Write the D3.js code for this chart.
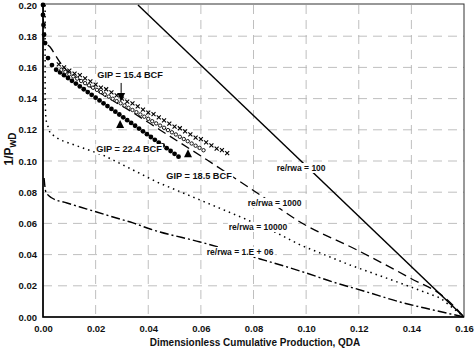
<!DOCTYPE html>
<html><head><meta charset="utf-8">
<script src="https://cdn.jsdelivr.net/npm/d3@7"></script>
<style>
html,body{margin:0;padding:0;background:#fff;}
svg{display:block;}
text{font-family:"Liberation Sans",Arial,sans-serif;font-weight:bold;fill:#111;}
</style></head>
<body>
<svg id="chart" width="474" height="348"></svg>
<script>
// ---- data ----
const xTicks = [0, 0.02, 0.04, 0.06, 0.08, 0.10, 0.12, 0.14, 0.16];
const yTicks = [0, 0.02, 0.04, 0.06, 0.08, 0.10, 0.12, 0.14, 0.16, 0.18, 0.20];

// re/rwa = 100 (solid)
const q100 = [0.0361, 0.16];
const y100 = [0.200, 0.000];
// re/rwa = 1000 (dashed)
const q1000 = [0, 0.0004, 0.0027, 0.0049, 0.0072, 0.0141, 0.0217, 0.0331, 0.0445, 0.0624, 0.0837, 0.0977, 0.1194, 0.1395, 0.1529, 0.16];
const y1000 = [0.200, 0.1763, 0.1731, 0.1673, 0.1615, 0.1519, 0.1436, 0.1321, 0.1199, 0.1006, 0.0769, 0.0609, 0.0429, 0.0250, 0.0122, 0];
// re/rwa = 10000 (dotted)
const q10000 = [0.0008, 0.0008, 0.0011, 0.0027, 0.0065, 0.0152, 0.0228, 0.0312, 0.0433, 0.0597, 0.0760, 0.0890, 0.0977, 0.1167, 0.1357, 0.1510, 0.16];
const y10000 = [0.200, 0.1391, 0.1263, 0.1179, 0.1135, 0.1083, 0.1038, 0.0968, 0.0865, 0.0750, 0.0635, 0.0538, 0.0462, 0.0333, 0.0218, 0.0122, 0];
// re/rwa = 1.E+06 (dash-dot)
const q1e6 = [0.0004, 0.0011, 0.0034, 0.0091, 0.0167, 0.0266, 0.0342, 0.0407, 0.0597, 0.0825, 0.0977, 0.1103, 0.1232, 0.1357, 0.1483, 0.16];
const y1e6 = [0.0891, 0.0801, 0.0763, 0.0731, 0.0692, 0.0641, 0.0603, 0.0564, 0.0481, 0.0372, 0.0295, 0.0224, 0.0160, 0.0096, 0.0045, 0];

// GIP = 15.4 BCF (x markers)
const qCross = [0.006,0.008,0.010,0.012,0.014,0.016,0.018,0.020,0.022,0.024,0.026,0.028,0.030,0.032,0.034,0.036,0.038,0.040,0.042,0.044,0.046,0.048,0.050,0.052,0.054,0.056,0.058,0.060,0.062,0.064,0.066,0.068,0.070];
const yCross = [0.162,0.160,0.158,0.156,0.155,0.153,0.151,0.149,0.147,0.146,0.144,0.142,0.140,0.138,0.137,0.135,0.133,0.131,0.130,0.128,0.126,0.124,0.122,0.121,0.119,0.117,0.115,0.114,0.112,0.110,0.108,0.107,0.105];
// GIP = 18.5 BCF (open circles)
const qOpen = [0.007,0.0085,0.010,0.0115,0.013,0.0145,0.016,0.0175,0.019,0.0205,0.022,0.0235,0.025,0.0265,0.028,0.0295,0.031,0.0325,0.034,0.0355,0.037,0.0385,0.040,0.0415,0.043,0.0445,0.046,0.0475,0.049,0.0505,0.052,0.0535,0.055,0.0565,0.058,0.0595,0.061];
const yOpen = [0.1585,0.1571,0.1556,0.1542,0.1528,0.1513,0.1499,0.1485,0.1470,0.1456,0.1442,0.1427,0.1413,0.1399,0.1384,0.1370,0.1356,0.1341,0.1327,0.1313,0.1298,0.1284,0.1270,0.1255,0.1241,0.1227,0.1213,0.1198,0.1184,0.1170,0.1155,0.1141,0.1127,0.1112,0.1098,0.1084,0.1069];
// GIP = 22.4 BCF (filled circles)
const qFill = [0,0,0.0002,0.0004,0.0008,0.0019,0.0034,0.005,0.0065,0.008,0.0095,0.011,0.0125,0.014,0.0155,0.017,0.0185,0.020,0.0215,0.023,0.0245,0.026,0.0275,0.029,0.0305,0.032,0.0335,0.035,0.0365,0.038,0.0395,0.041,0.0425,0.044,0.0455,0.047,0.0485,0.050,0.0515];
const yFill = [0.200,0.1936,0.1872,0.1810,0.1756,0.1660,0.1615,0.1585,0.1568,0.1550,0.1532,0.1514,0.1496,0.1478,0.1460,0.1442,0.1424,0.1406,0.1388,0.1370,0.1352,0.1334,0.1316,0.1298,0.1280,0.1262,0.1244,0.1226,0.1208,0.1190,0.1172,0.1154,0.1136,0.1118,0.1100,0.1082,0.1064,0.1046,0.1028];

// arrows marking GIP (tip positions) and labels
const gipLabels = ["GIP = 15.4 BCF", "GIP = 22.4 BCF", "GIP = 18.5 BCF"];
const gipLabelQ = [0.0331, 0.0327, 0.0593];
const gipLabelY = [0.1551, 0.1077, 0.0904];
const arrowQ = [0.0297, 0.0293, 0.0551];
const arrowY = [0.1385, 0.1263, 0.1075];
const arrowDir = ["down", "up", "up"];

const reLabels = ["re/rwa = 100", "re/rwa = 1000", "re/rwa = 10000", "re/rwa = 1.E + 06"];
const reLabelQ = [0.0981, 0.0880, 0.0817, 0.0749];
const reLabelY = [0.0955, 0.0731, 0.0577, 0.0417];

const xTitle = "Dimensionless Cumulative Production, QDA";

// ---- drawing ----
const svg = d3.select("#chart");
const L = 43, T = 5, R = 464, B = 317;
const x = d3.scaleLinear().domain([0, 0.16]).range([L, R]);
const y = d3.scaleLinear().domain([0, 0.20]).range([B, T]);

// grid
const grid = svg.append("g").attr("stroke", "#b8b8b8").attr("stroke-width", 0.9).attr("stroke-dasharray", "9,6");
xTicks.slice(1, -1).forEach(t => grid.append("line").attr("x1", x(t)).attr("x2", x(t)).attr("y1", T).attr("y2", B));
yTicks.slice(1, -1).forEach(t => grid.append("line").attr("y1", y(t)).attr("y2", y(t)).attr("x1", L).attr("x2", R));

// frame
svg.append("rect").attr("x", L).attr("y", T - 1).attr("width", R - L).attr("height", B - T + 1)
  .attr("fill", "none").attr("stroke", "#333").attr("stroke-width", 1);
svg.append("path").attr("d", `M${L},${T - 1}V${B}H${R}`).attr("fill", "none").attr("stroke", "#000").attr("stroke-width", 1.6);

// axes (labels only)
const xAxis = d3.axisBottom(x).tickValues(xTicks).tickFormat(d3.format(".2f")).tickSize(0).tickPadding(8);
const gx = svg.append("g").attr("transform", `translate(0,${B})`).call(xAxis);
gx.select(".domain").remove();
gx.selectAll("text").attr("font-size", 9.5).attr("font-family", "Liberation Sans, Arial, sans-serif").attr("font-weight", "bold").attr("fill", "#111");
const yAxis = d3.axisLeft(y).tickValues(yTicks).tickFormat(d3.format(".2f")).tickSize(0).tickPadding(6);
const gy = svg.append("g").attr("transform", `translate(${L},0)`).call(yAxis);
gy.select(".domain").remove();
gy.selectAll("text").attr("font-size", 9.5).attr("font-family", "Liberation Sans, Arial, sans-serif").attr("font-weight", "bold").attr("fill", "#111");

// titles
svg.append("text").attr("x", 255).attr("y", 346).attr("text-anchor", "middle").attr("font-size", 10).text(xTitle);
const yt = svg.append("text").attr("transform", "translate(13,149) rotate(-90)").attr("text-anchor", "middle").attr("font-size", 12);
yt.append("tspan").text("1/P");
yt.append("tspan").attr("font-size", 10).attr("dy", 3).text("wD");

// curves
const clip = svg.append("clipPath").attr("id", "pc").append("rect").attr("x", L).attr("y", T - 1).attr("width", R - L).attr("height", B - T + 1);
const line = d3.line().x(d => x(d[0])).y(d => y(d[1]));
const zip = (a, b) => a.map((v, i) => [v, b[i]]);
const curves = svg.append("g").attr("clip-path", "url(#pc)").attr("fill", "none").attr("stroke", "#000");
curves.append("path").attr("d", line(zip(q100, y100))).attr("stroke-width", 1.4);
curves.append("path").attr("d", line.curve(d3.curveMonotoneX)(zip(q1000, y1000))).attr("stroke-width", 1.3).attr("stroke-dasharray", "9,5");
curves.append("path").attr("d", d3.line().x(d => x(d[0])).y(d => y(d[1]))(zip(q10000, y10000))).attr("stroke-width", 1.5).attr("stroke-dasharray", "1.5,4");
curves.append("path").attr("d", d3.line().x(d => x(d[0])).y(d => y(d[1])).curve(d3.curveMonotoneX)(zip(q1e6, y1e6))).attr("stroke-width", 1.4).attr("stroke-dasharray", "9,3,2,3");

// markers
const mk = svg.append("g");
mk.selectAll(".fc").data(zip(qFill, yFill)).join("circle").attr("cx", d => x(d[0])).attr("cy", d => y(d[1])).attr("r", 2.4).attr("fill", "#000");
mk.selectAll(".oc").data(zip(qOpen, yOpen)).join("circle").attr("cx", d => x(d[0])).attr("cy", d => y(d[1])).attr("r", 1.7).attr("fill", "#fff").attr("stroke", "#000").attr("stroke-width", 0.9);
mk.selectAll(".xc").data(zip(qCross, yCross)).join("path").attr("transform", d => `translate(${x(d[0])},${y(d[1])})`)
  .attr("d", "M-2,-2L2,2M-2,2L2,-2").attr("stroke", "#000").attr("stroke-width", 1.1);

// arrows
arrowQ.forEach((q, i) => {
  const px = x(q), py = y(arrowY[i]);
  const s = arrowDir[i] === "down" ? -1 : 1;
  svg.append("path").attr("d", `M${px},${py}L${px - 4},${py + s * 8}L${px + 4},${py + s * 8}Z`).attr("fill", "#000");
  if (i === 0) svg.append("line").attr("x1", px).attr("x2", px).attr("y1", py - 8).attr("y2", py - 18).attr("stroke", "#000").attr("stroke-width", 1);
});

// labels
function label(txt, q, v, fs) {
  const g = svg.append("g");
  const r = g.append("rect").attr("fill", "#fff");
  const t = g.append("text").attr("x", x(q)).attr("y", y(v)).attr("text-anchor", "middle").attr("dominant-baseline", "central").attr("font-size", fs).text(txt);
  const bb = t.node().getBBox();
  r.attr("x", bb.x - 1).attr("y", bb.y).attr("width", bb.width + 2).attr("height", bb.height);
}
gipLabels.forEach((t, i) => label(t, gipLabelQ[i], gipLabelY[i], 9.2));
reLabels.forEach((t, i) => label(t, reLabelQ[i], reLabelY[i], 8.5));
</script>
</body></html>
